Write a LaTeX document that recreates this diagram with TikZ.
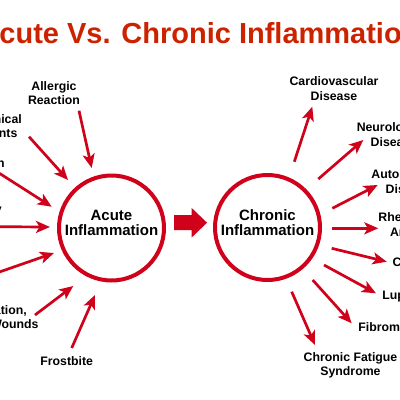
\documentclass[tikz,border=0pt]{standalone}
\usepackage{fontspec}
\setmainfont{Liberation Sans}
\usetikzlibrary{arrows.meta}
\definecolor{inflred}{RGB}{208,2,27}
\definecolor{titlered}{RGB}{204,34,0}
\tikzset{>={Stealth[length=14pt,width=12pt,inset=3.5pt]}}
\tikzset{
  lbl/.style={font=\bfseries\fontsize{12.3}{14.3}\selectfont, align=center, inner sep=0pt},
  ring/.style={circle, draw=inflred, line width=4pt, minimum size=105pt, inner sep=0pt},
  ringtext/.style={font=\bfseries\fontsize{15}{15}\selectfont, align=center, inner sep=0pt},
  cause/.style={->, color=inflred, line width=2.7pt},
}
\begin{document}
\begin{tikzpicture}[x=1pt,y=-1pt]
\path[use as bounding box, fill=white] (0,0) rectangle (400,400);
\clip (0,0) rectangle (400,400);
\node[anchor=base, font=\bfseries\fontsize{29}{34}\selectfont, text=titlered] (title) at (199,43) {Acute Vs. Chronic Inflammation};
% the two states
\node[ring] (acute) at (111.5,228) {};
\node[ring] (chronic) at (267.5,227.5) {};
\node[ringtext] (acutetxt) at ([yshift=5pt]acute.center) {Acute\\Inflammation};
\node[ringtext] (chronictxt) at ([yshift=5pt]chronic.center) {Chronic\\Inflammation};
\fill[inflred] (174,215) -- (191.7,215) -- (191.7,208) -- (207,222.7) -- (191.7,237.5) -- (191.7,230) -- (174,230) -- cycle;
% causes (left)
\node[lbl] (allergic) at (54,93) {Allergic\\Reaction};
\node[lbl] (chemical) at (-5.5,126) {Chemical\\Irritants};
\node[lbl] (infection) at (-21,163.5) {Infection};
\node[lbl] (injury) at (-15,210) {Injury};
\node[lbl] (wounds) at (-3,318) {Radiation,\\Open Wounds};
\node[lbl] (frostbite) at (66.7,361) {Frostbite};
\coordinate (c1t) at (79,110.7);   \coordinate (c1h) at (91.7,168);
\coordinate (c2t) at (29,136.7);   \coordinate (c2h) at (68,180);
\coordinate (c3t) at (-5,170.5);   \coordinate (c3h) at (51.7,206.7);
\coordinate (c4t) at (-5,226.7);   \coordinate (c4h) at (50,227);
\coordinate (c5t) at (-5,273.5);   \coordinate (c5h) at (54,253);
\coordinate (c6t) at (35,315);     \coordinate (c6h) at (73.3,286);
\coordinate (c7t) at (71.7,348);   \coordinate (c7h) at (95,295);
\draw[cause] (c1t) -- (c1h);
\draw[cause] (c2t) -- (c2h);
\draw[cause] (c3t) -- (c3h);
\draw[cause] (c4t) -- (c4h);
\draw[cause] (c5t) -- (c5h);
\draw[cause] (c6t) -- (c6h);
\draw[cause] (c7t) -- (c7h);
% outcomes (right)
\node[lbl] (cardio) at (334,88.5) {Cardiovascular\\Disease};
\node[lbl] (neuro) at (394,134.5) {Neurological\\Disease};
\node[lbl] (autoimm) at (409,181.5) {Autoimmune\\Disease};
\node[lbl] (rheuma) at (414,224.5) {Rheumatoid\\Arthritis};
\node[lbl] (cancer) at (413.5,262.3) {Cancer};
\node[lbl] (lupus) at (400.8,296.8) {Lupus};
\node[lbl] (fibro) at (396.6,328.5) {Fibromyalgia};
\node[lbl] (fatigue) at (350.5,365.6) {Chronic Fatigue\\Syndrome};
\coordinate (o1t) at (294.3,161.7); \coordinate (o1h) at (312.3,106.7);
\coordinate (o2t) at (318.3,179);   \coordinate (o2h) at (363.3,140);
\coordinate (o3t) at (332.3,208.3); \coordinate (o3h) at (377.7,185);
\coordinate (o4t) at (331.7,228.3); \coordinate (o4h) at (378.3,228.3);
\coordinate (o5t) at (331.7,248.3); \coordinate (o5h) at (386.7,261.7);
\coordinate (o6t) at (324,265);     \coordinate (o6h) at (376,293.3);
\coordinate (o7t) at (312.7,280);   \coordinate (o7h) at (351.7,323.3);
\coordinate (o8t) at (291.7,291.7); \coordinate (o8h) at (315,345);
\draw[cause] (o1t) -- (o1h);
\draw[cause] (o2t) -- (o2h);
\draw[cause] (o3t) -- (o3h);
\draw[cause] (o4t) -- (o4h);
\draw[cause] (o5t) -- (o5h);
\draw[cause] (o6t) -- (o6h);
\draw[cause] (o7t) -- (o7h);
\draw[cause] (o8t) -- (o8h);
\end{tikzpicture}
\end{document}
